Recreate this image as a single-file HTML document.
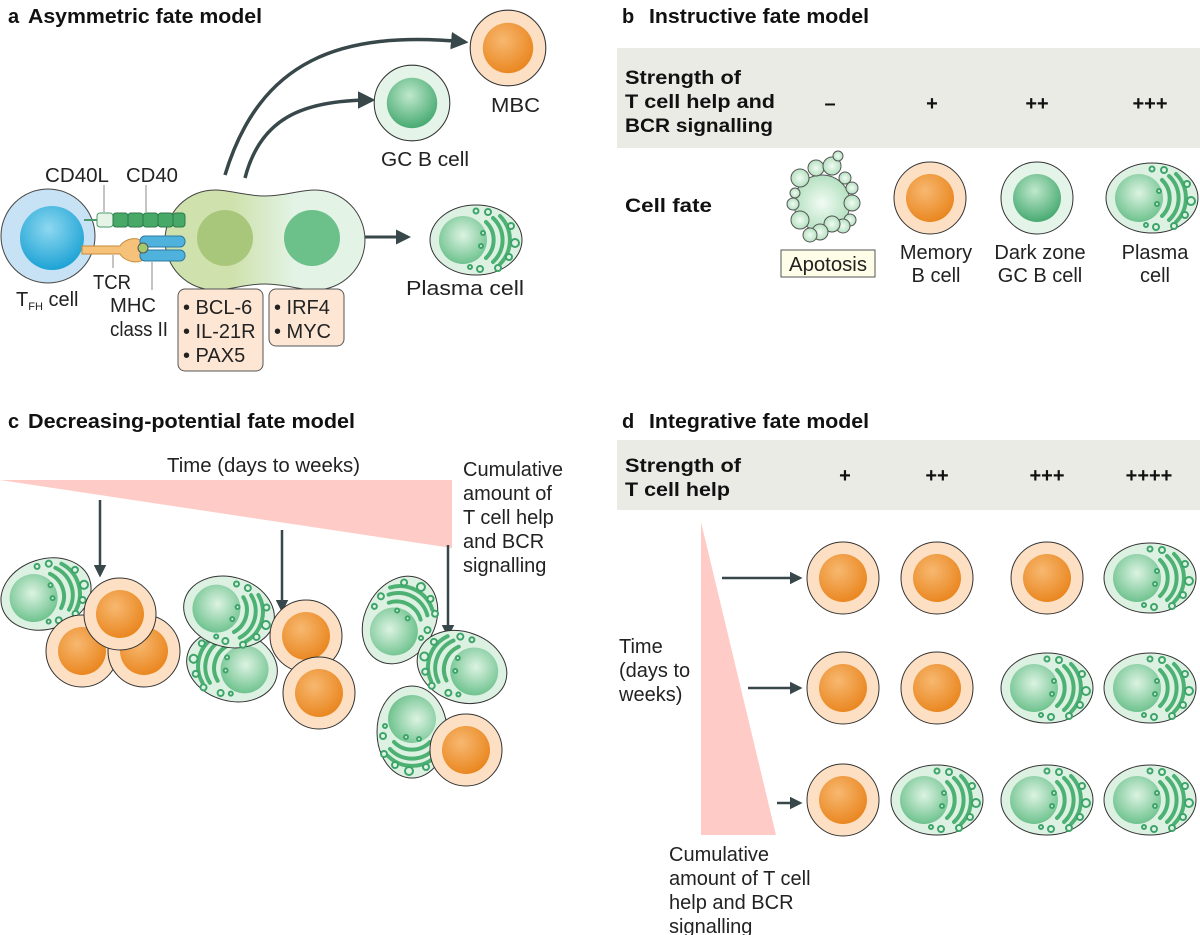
<!DOCTYPE html>
<html><head><meta charset="utf-8"><style>
html,body{margin:0;padding:0;background:#fff;}
svg{display:block;font-family:"Liberation Sans",sans-serif;}
.t{font-size:20px;fill:#222;}
.b{font-size:19px;font-weight:bold;fill:#111;}
.h{font-size:20px;font-weight:bold;fill:#111;}
</style></head><body>
<svg width="1200" height="935" viewBox="0 0 1200 935" xmlns="http://www.w3.org/2000/svg">
<defs>
<radialGradient id="og" cx="0.4" cy="0.35" r="0.7"><stop offset="0" stop-color="#f7b870"/><stop offset="1" stop-color="#e9841c"/></radialGradient>
<radialGradient id="gg" cx="0.45" cy="0.35" r="0.7"><stop offset="0" stop-color="#bfe8cc"/><stop offset="1" stop-color="#3ea56a"/></radialGradient>
<radialGradient id="pg" cx="0.5" cy="0.4" r="0.7"><stop offset="0" stop-color="#dcf3e2"/><stop offset="1" stop-color="#5cba80"/></radialGradient>
<radialGradient id="bg" cx="0.45" cy="0.35" r="0.7"><stop offset="0" stop-color="#8ed8f0"/><stop offset="1" stop-color="#159fd3"/></radialGradient>
<radialGradient id="ap" cx="0.5" cy="0.5" r="0.6"><stop offset="0" stop-color="#f2fbf4"/><stop offset="1" stop-color="#a8dcb6"/></radialGradient>
<linearGradient id="dbl" x1="0" x2="1" y1="0" y2="0"><stop offset="0" stop-color="#cfe2ae"/><stop offset="0.35" stop-color="#cfe2ae"/><stop offset="0.65" stop-color="#e3f3e6"/><stop offset="1" stop-color="#e3f3e6"/></linearGradient>
<marker id="ar" viewBox="0 0 10 10" refX="8" refY="5" markerWidth="5" markerHeight="5" orient="auto"><path d="M0,0L10,5L0,10z" fill="#37474a"/></marker>
<g id="mem"><circle r="36" fill="#fde0c3" stroke="#333" stroke-width="1"/><circle r="24" fill="url(#og)"/></g>
<g id="gc"><circle r="36" fill="#e4f4e8" stroke="#333" stroke-width="1"/><circle r="24" fill="url(#gg)"/></g>
<g id="pl"><ellipse rx="46" ry="35" fill="#ddf1e2" stroke="#333" stroke-width="1"/><circle cx="-13" cy="0" r="24" fill="url(#pg)"/>
<g fill="none" stroke="#4cb173" stroke-width="4" stroke-linecap="round"><path d="M10,-18 A25,25 0 0 1 10,18"/><path d="M17,-22 A30,30 0 0 1 17,22"/><path d="M24,-24 A34,34 0 0 1 24,24"/></g>
<g fill="#dff3e5" stroke="#3ea56a" stroke-width="2"><circle cx="0" cy="-29" r="2.5"/><circle cx="12" cy="-28" r="3"/><circle cx="35" cy="-14" r="3"/><circle cx="39" cy="3" r="4"/><circle cx="33" cy="17" r="3"/><circle cx="22" cy="28" r="3"/><circle cx="4" cy="29" r="3"/><circle cx="-6" cy="27" r="2"/><circle cx="7" cy="-7" r="2"/><circle cx="5" cy="6" r="2"/></g></g>
</defs>

<!-- Panel a -->
<text x="8" y="23" class="h">a</text><text x="28" y="23" class="h" textLength="234" lengthAdjust="spacingAndGlyphs">Asymmetric fate model</text>
<path d="M225,175 C260,60 340,30 465,42" fill="none" stroke="#37474a" stroke-width="3.5" marker-end="url(#ar)"/>
<path d="M245,178 C260,120 300,100 372,100" fill="none" stroke="#37474a" stroke-width="3.5" marker-end="url(#ar)"/>
<line x1="360" y1="237" x2="408" y2="237" stroke="#37474a" stroke-width="3" marker-end="url(#ar)"/>
<use href="#mem" transform="translate(508,48) scale(1.05)"/>
<use href="#gc" transform="translate(412,103) scale(1.05)"/>
<use href="#pl" transform="translate(476,240)"/>
<text x="491" y="112" class="t" textLength="49" lengthAdjust="spacingAndGlyphs">MBC</text>
<text x="381" y="166" class="t" textLength="88" lengthAdjust="spacingAndGlyphs">GC B cell</text>
<text x="406" y="295" class="t" textLength="118" lengthAdjust="spacingAndGlyphs">Plasma cell</text>
<circle cx="48" cy="236" r="47" fill="#c6e2f4" stroke="#444"/>
<circle cx="52" cy="238" r="32" fill="url(#bg)"/>
<path d="M215,190 C230,190 245,196 265,196 C285,196 300,190 315,190 A50,50 0 0 1 315,290 C300,290 285,284 265,284 C245,284 230,290 215,290 A50,50 0 0 1 215,190z" fill="url(#dbl)" stroke="#444"/>
<circle cx="225" cy="238" r="28" fill="#a9c77a"/>
<circle cx="312" cy="238" r="28" fill="#6cc08a"/>
<line x1="84" y1="220" x2="97" y2="220" stroke="#4a9a6a" stroke-width="2"/>
<rect x="97" y="213" width="16" height="14" rx="3" fill="#e6f4e8" stroke="#4a9a6a"/>
<g fill="#47a868" stroke="#2d7a4a"><rect x="113" y="213" width="15" height="14" rx="3"/><rect x="128" y="213" width="15" height="14" rx="3"/><rect x="143" y="213" width="15" height="14" rx="3"/><rect x="158" y="213" width="15" height="14" rx="3"/><rect x="173" y="213" width="12" height="14" rx="3"/></g>
<path d="M82,246 L120,246 C125,238 140,235 145,245 L145,258 C140,265 125,262 120,254 L82,254 z" fill="#f6c27a" stroke="#c48a3a"/>
<rect x="140" y="236" width="45" height="11" rx="5" fill="#4fb2dc" stroke="#2d7aa0"/>
<rect x="140" y="250" width="45" height="11" rx="5" fill="#4fb2dc" stroke="#2d7aa0"/>
<circle cx="143" cy="248" r="5" fill="#a5c86a" stroke="#555"/>
<line x1="104" y1="185" x2="104" y2="212" stroke="#888"/><line x1="146" y1="185" x2="146" y2="212" stroke="#888"/>
<line x1="113" y1="255" x2="113" y2="268" stroke="#888"/><line x1="152" y1="262" x2="152" y2="290" stroke="#888"/>
<text x="45" y="182" class="t" textLength="64" lengthAdjust="spacingAndGlyphs">CD40L</text><text x="126" y="182" class="t" textLength="52" lengthAdjust="spacingAndGlyphs">CD40</text>
<text x="93" y="289" class="t" textLength="38" lengthAdjust="spacingAndGlyphs">TCR</text>
<text x="16" y="306" class="t">T<tspan font-size="11" dy="4">FH</tspan><tspan dy="-4"> cell</tspan></text>
<text x="110" y="312" class="t" textLength="46" lengthAdjust="spacingAndGlyphs">MHC</text><text x="110" y="336" class="t" textLength="58" lengthAdjust="spacingAndGlyphs">class II</text>
<rect x="178" y="289" width="85" height="82" rx="7" fill="#fde6d4" stroke="#555"/>
<rect x="269" y="289" width="75" height="57" rx="7" fill="#fde6d4" stroke="#555"/>
<g class="t"><text x="183" y="314">• BCL-6</text><text x="183" y="338">• IL-21R</text><text x="183" y="362">• PAX5</text><text x="274" y="314">• IRF4</text><text x="274" y="338">• MYC</text></g>

<!-- Panel b -->
<text x="622" y="23" class="h">b</text><text x="649" y="23" class="h" textLength="220" lengthAdjust="spacingAndGlyphs">Instructive fate model</text>
<rect x="617" y="48" width="583" height="100" fill="#ebebe5"/>
<g class="b"><text x="625" y="84" textLength="116" lengthAdjust="spacingAndGlyphs">Strength of</text><text x="625" y="108" textLength="150" lengthAdjust="spacingAndGlyphs">T cell help and</text><text x="625" y="132" textLength="148" lengthAdjust="spacingAndGlyphs">BCR signalling</text>
<g text-anchor="middle" font-size="20"><text x="830" y="110">–</text><text x="932" y="110">+</text><text x="1037" y="110">++</text><text x="1150" y="110">+++</text></g>
<text x="625" y="212" textLength="87" lengthAdjust="spacingAndGlyphs">Cell fate</text></g>
<g fill="url(#ap)" stroke="#555"><circle cx="822" cy="203" r="28"/>
<circle cx="800" cy="178" r="9"/><circle cx="816" cy="168" r="8"/><circle cx="832" cy="166" r="9"/><circle cx="838" cy="156" r="5"/><circle cx="845" cy="178" r="6"/><circle cx="852" cy="188" r="6"/><circle cx="852" cy="203" r="8"/><circle cx="850" cy="220" r="6"/><circle cx="843" cy="226" r="7"/><circle cx="832" cy="224" r="8"/><circle cx="820" cy="232" r="8"/><circle cx="810" cy="235" r="7"/><circle cx="800" cy="220" r="9"/><circle cx="793" cy="204" r="6"/><circle cx="795" cy="193" r="5"/></g>
<rect x="781" y="250" width="94" height="27" fill="#fefde8" stroke="#555"/>
<text x="789" y="271" class="t" textLength="78" lengthAdjust="spacingAndGlyphs">Apotosis</text>
<use href="#mem" transform="translate(930,198)"/>
<use href="#gc" transform="translate(1037,198)"/>
<use href="#pl" transform="translate(1152,198)"/>
<g class="t" text-anchor="middle"><text x="936" y="259">Memory</text><text x="936" y="282">B cell</text><text x="1040" y="259">Dark zone</text><text x="1040" y="282">GC B cell</text><text x="1155" y="259">Plasma</text><text x="1155" y="282">cell</text></g>

<!-- Panel c -->
<text x="8" y="428" class="h">c</text><text x="28" y="428" class="h" textLength="327" lengthAdjust="spacingAndGlyphs">Decreasing-potential fate model</text>
<polygon points="0,480 452,480 452,548" fill="#fecbc6"/>
<text x="167" y="472" class="t" textLength="193" lengthAdjust="spacingAndGlyphs">Time (days to weeks)</text>
<g class="t"><text x="463" y="476">Cumulative</text><text x="463" y="500">amount of</text><text x="463" y="524">T cell help</text><text x="463" y="548">and BCR</text><text x="463" y="572">signalling</text></g>
<g stroke="#37474a" stroke-width="2.5" marker-end="url(#ar)"><line x1="100" y1="500" x2="100" y2="575"/><line x1="282" y1="530" x2="282" y2="610"/><line x1="448" y1="545" x2="448" y2="635"/></g>
<use href="#pl" transform="translate(46,594) rotate(-18)"/>
<use href="#mem" transform="translate(82,651)"/>
<use href="#mem" transform="translate(144,651)"/>
<use href="#mem" transform="translate(120,614)"/>
<use href="#pl" transform="translate(232,666) rotate(15) scale(-1,1)"/>
<use href="#pl" transform="translate(229,612) rotate(15)"/>
<use href="#mem" transform="translate(306,636)"/>
<use href="#mem" transform="translate(319,693)"/>
<use href="#pl" transform="translate(400,620) rotate(-62)"/>
<use href="#pl" transform="translate(462,667) rotate(20) scale(-1,1)"/>
<use href="#pl" transform="translate(412,732) rotate(90)"/>
<use href="#mem" transform="translate(466,750)"/>

<!-- Panel d -->
<text x="622" y="428" class="h">d</text><text x="649" y="428" class="h" textLength="220" lengthAdjust="spacingAndGlyphs">Integrative fate model</text>
<rect x="617" y="440" width="583" height="70" fill="#ebebe5"/>
<g class="b"><text x="625" y="472" textLength="116" lengthAdjust="spacingAndGlyphs">Strength of</text><text x="625" y="496" textLength="105" lengthAdjust="spacingAndGlyphs">T cell help</text>
<g text-anchor="middle" font-size="20"><text x="845" y="482">+</text><text x="937" y="482">++</text><text x="1047" y="482">+++</text><text x="1149" y="482">++++</text></g></g>
<polygon points="701,522 776,835 701,835" fill="#fecbc6"/>
<g class="t"><text x="619" y="653">Time</text><text x="619" y="677">(days to</text><text x="619" y="701">weeks)</text>
<text x="669" y="861">Cumulative</text><text x="669" y="885">amount of T cell</text><text x="669" y="909">help and BCR</text><text x="669" y="933">signalling</text></g>
<g stroke="#37474a" stroke-width="2.5" marker-end="url(#ar)"><line x1="722" y1="578" x2="800" y2="578"/><line x1="748" y1="688" x2="800" y2="688"/><line x1="777" y1="803" x2="800" y2="803"/></g>
<use href="#mem" transform="translate(843,578)"/><use href="#mem" transform="translate(937,578)"/><use href="#mem" transform="translate(1047,578)"/><use href="#pl" transform="translate(1150,578)"/>
<use href="#mem" transform="translate(843,688)"/><use href="#mem" transform="translate(937,688)"/><use href="#pl" transform="translate(1047,688)"/><use href="#pl" transform="translate(1150,688)"/>
<use href="#mem" transform="translate(843,800)"/><use href="#pl" transform="translate(937,800)"/><use href="#pl" transform="translate(1047,800)"/><use href="#pl" transform="translate(1150,800)"/>
</svg>
</body></html>
